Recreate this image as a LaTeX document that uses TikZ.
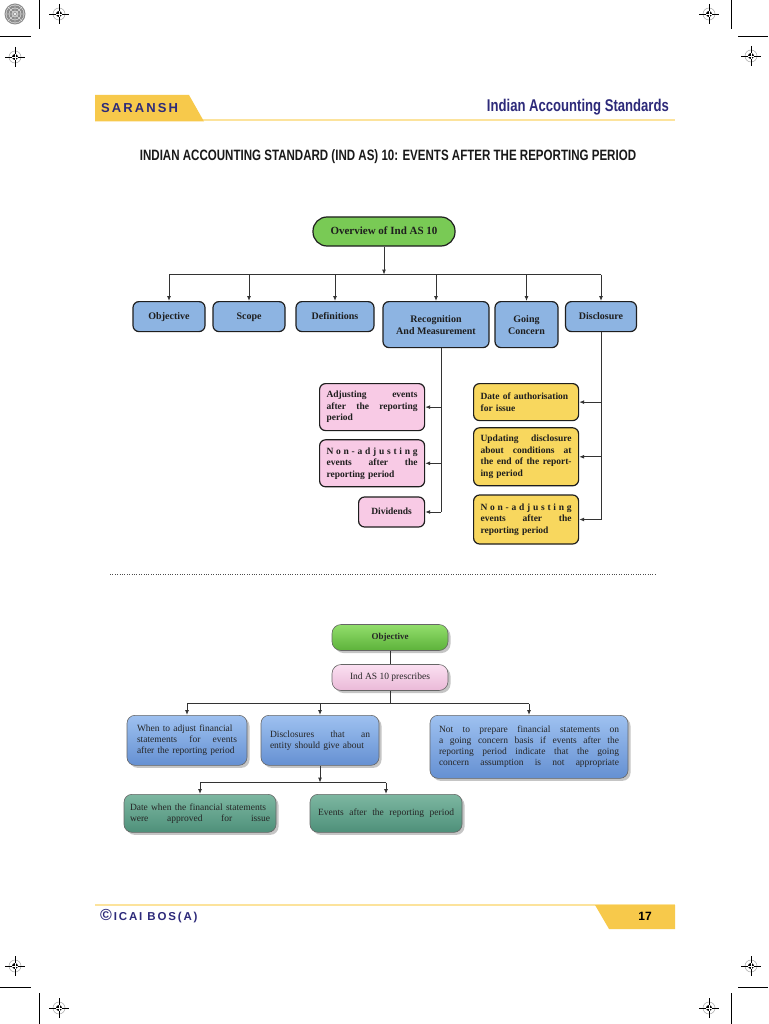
\documentclass[tikz,border=0pt]{standalone}
\usepackage{fontspec}
\setmainfont{Liberation Serif}
\newfontfamily\condfont[FakeStretch=0.77]{Liberation Sans}
\newfontfamily\widefont[LetterSpace=16]{Liberation Sans}
\usepackage{xcolor}
\usepackage{tikz}
\usetikzlibrary{positioning, arrows.meta, shadows}

\definecolor{navy}{HTML}{2D2A7A}
\definecolor{tagyellow}{HTML}{F7C94B}
\definecolor{ruleyellow}{HTML}{FCE39C}
\definecolor{ovgreen}{HTML}{79CA55}
\definecolor{topblue}{HTML}{8DB4E2}
\definecolor{pinkfill}{HTML}{F8CAE5}
\definecolor{boxyellow}{HTML}{F8D75E}
\definecolor{edge}{HTML}{1E1E1E}
\definecolor{wire}{HTML}{333333}
\definecolor{bluetop}{HTML}{9EC1F0}
\definecolor{bluebot}{HTML}{6590D2}
\definecolor{tealtop}{HTML}{7DB7A1}
\definecolor{tealbot}{HTML}{4E907A}
\definecolor{greentop}{HTML}{92DE6C}
\definecolor{greenbot}{HTML}{5DB23A}
\definecolor{pinktop}{HTML}{FBE0F1}
\definecolor{pinkbot}{HTML}{EAB9D8}

% justified lines and letter-spaced words inside the boxes
\newcommand{\fullline}[1]{\makebox[\hsize][s]{\spaceskip=0.25em plus 1fil\relax #1}}
\def\spreadletters#1{#1\futurelet\spreadnext\spreadcheck}
\def\spreadcheck{\ifx\spreadnext\relax\let\spreadgo\spreadstop\else\hfil\let\spreadgo\spreadletters\fi\spreadgo}
\def\spreadstop#1{}
\newcommand{\spreadword}[1]{\makebox[\hsize][s]{\spreadletters#1\relax}}

\begin{document}
\begin{tikzpicture}[
    x=1pt, y=-1pt,
    % Define styles for the boxes, wires and marks
    wire/.style={draw=wire, line width=0.9pt},
    arrow/.style={wire, -{Latex[length=5pt, width=4pt]}},
    topbox/.style={draw=edge, line width=1.2pt, rounded corners=6pt, fill=topblue, align=center, anchor=north, minimum height=30pt, inner sep=2pt, font=\fontsize{10}{12}\selectfont\bfseries, text=edge},
    oneline/.style={text height=7pt, text depth=2pt},
    pinkbox/.style={topbox, fill=pinkfill, align=left, text width=91pt, inner xsep=7pt, font=\fontsize{9.5}{11.5}\selectfont\bfseries},
    yellowbox/.style={pinkbox, fill=boxyellow},
    shadedbox/.style={draw=black!60, line width=0.6pt, rounded corners=8pt, align=left, anchor=north, inner sep=3pt, font=\fontsize{9.5}{11}\selectfont, text=black!85, drop shadow={shadow xshift=2.5pt, shadow yshift=-2.5pt, opacity=0.45}},
    bluebox/.style={shadedbox, top color=bluetop, bottom color=bluebot},
    tealbox/.style={shadedbox, top color=tealtop, bottom color=tealbot},
    pillbox/.style={shadedbox, align=center, anchor=center, minimum width=116pt, minimum height=26pt, rounded corners=9pt},
    regmark/.pic={
        \draw[black!35, line width=0.5pt] (0,0) circle (6);
        \draw[black, line width=0.7pt] (-10,0) -- (10,0) (0,-10) -- (0,10);
        \fill[black] (0,0) circle (3);
        \draw[white, line width=0.5pt] (-3,0) -- (3,0) (0,-3) -- (0,3);
    }
]
    \useasboundingbox (0,0) rectangle (768,1024);
    \fill[white] (0,0) rectangle (768,1024);

    % Printer marks
    \fill[black!45] (15,14) circle (10.5);
    \draw[white, line width=0.3pt] (15,14) circle (3) (15,14) circle (6) (15,14) circle (9);
    \draw[white, line width=0.3pt] (5,14) -- (25,14) (15,4) -- (15,24) (8,7) -- (22,21) (8,21) -- (22,7);
    \pic at (59,14) {regmark};
    \pic at (15,57) {regmark};
    \pic at (709,14) {regmark};
    \pic at (751,56) {regmark};
    \pic at (15,966) {regmark};
    \pic at (59,1008) {regmark};
    \pic at (709,1008) {regmark};
    \pic at (751,966) {regmark};
    \draw[line width=0.9pt] (39,0) -- (39,29) (0,36) -- (31,36);
    \draw[line width=0.9pt] (731,0) -- (731,29) (738,36) -- (768,36);
    \draw[line width=0.9pt] (0,987) -- (31,987) (39,993) -- (39,1024);
    \draw[line width=0.9pt] (738,987) -- (768,987) (731,993) -- (731,1024);

    % Header and footer
    \fill[ruleyellow] (95,119) rectangle (675,121.5);
    \fill[tagyellow] (95,95) -- (189,95) -- (204,121.5) -- (95,121.5) -- cycle;
    \node[font=\widefont\fontsize{13}{15}\selectfont\bfseries, text=navy, anchor=west, inner sep=0pt] (saransh) at (101,108) {SARANSH};
    \node[font=\condfont\fontsize{17}{19}\selectfont\bfseries, text=navy, anchor=east, inner sep=0pt] (standards) at (669,107) {Indian Accounting Standards};
    \node[font=\condfont\fontsize{15}{18}\selectfont\bfseries, text=black!90, inner sep=0pt] (title) at (388,156.5) {INDIAN ACCOUNTING STANDARD (IND AS) 10: EVENTS AFTER THE REPORTING PERIOD};

    \fill[ruleyellow] (95,903.5) rectangle (675,906);
    \fill[tagyellow] (595,905) -- (675,905) -- (675,929) -- (609,929) -- cycle;
    \node[font=\widefont\fontsize{11.5}{13}\selectfont\bfseries, text=navy, anchor=west, inner sep=0pt] (icai) at (100,916) {{\fontsize{16}{16}\selectfont\textcopyright}\,ICAI BOS(A)};
    \node[font=\fontspec{Liberation Sans}\fontsize{12}{14}\selectfont\bfseries, inner sep=0pt] (pageno) at (645,916) {17};

    % Overview of Ind AS 10
    \node[topbox, oneline, minimum width=142pt, minimum height=29pt, rounded corners=14pt, fill=ovgreen, anchor=center, font=\fontsize{11}{12}\selectfont\bfseries] (overview) at (384,231.5) {Overview of Ind AS 10};
    \coordinate (topbus) at ([yshift=-28pt]overview.south);

    \node[topbox, oneline, minimum width=72pt] (objective) at (169,301) {Objective};
    \node[topbox, oneline, minimum width=72pt] (scope) at (249,301) {Scope};
    \node[topbox, oneline, minimum width=78pt] (definitions) at (335,301) {Definitions};
    \node[topbox, minimum width=106pt, minimum height=46pt] (recognition) at (436,301) {Recognition\\And Measurement};
    \node[topbox, minimum width=63pt, minimum height=46pt] (goingconcern) at (526.5,301) {Going\\Concern};
    \node[topbox, oneline, minimum width=71pt] (disclosure) at (601,301) {Disclosure};

    \node[pinkbox, anchor=north west, minimum height=47pt] (adjusting) at (319,383) {\fullline{Adjusting events}\\\fullline{after the reporting}\\period};
    \node[pinkbox, below=8pt of adjusting, minimum height=47pt] (nonadjusting) {\spreadword{Non-adjusting}\\\fullline{events after the}\\reporting period};
    \node[pinkbox, oneline, text width=52pt, align=center, minimum height=30pt, below left=9pt and 0pt of nonadjusting.south east] (dividends) {Dividends};

    \node[yellowbox, anchor=north west, minimum height=37pt] (authorisation) at (473,383) {Date of authorisation\\for issue};
    \node[yellowbox, below=6pt of authorisation, minimum height=58pt] (updating) {\fullline{Updating disclosure}\\\fullline{about conditions at}\\\fullline{the end of the report-}\\ing period};
    \node[yellowbox, below=8pt of updating, minimum height=49pt] (nonadjdisc) {\spreadword{Non-adjusting}\\\fullline{events after the}\\reporting period};

    % Draw the wires and arrows
    \draw[arrow] (overview.south) -- (topbus);
    \draw[wire] (topbus -| objective) -- (topbus -| disclosure);
    \draw[arrow] (topbus -| objective) -- (objective.north);
    \draw[arrow] (topbus -| scope) -- (scope.north);
    \draw[arrow] (topbus -| definitions) -- (definitions.north);
    \draw[arrow] (topbus -| recognition) -- (recognition.north);
    \draw[arrow] (topbus -| goingconcern) -- (goingconcern.north);
    \draw[arrow] (topbus -| disclosure) -- (disclosure.north);

    \coordinate (rtrunk) at ([xshift=5pt]recognition.south);
    \draw[wire] (rtrunk) -- (rtrunk |- dividends);
    \draw[arrow] (rtrunk |- adjusting) -- (adjusting.east);
    \draw[arrow] (rtrunk |- nonadjusting) -- (nonadjusting.east);
    \draw[arrow] (rtrunk |- dividends) -- (dividends.east);

    \draw[wire] (disclosure.south) -- (disclosure.south |- nonadjdisc);
    \draw[arrow] (disclosure.south |- authorisation) -- (authorisation.east);
    \draw[arrow] (disclosure.south |- updating) -- (updating.east);
    \draw[arrow] (disclosure.south |- nonadjdisc) -- (nonadjdisc.east);

    \draw[black!70, line width=0.8pt, dash pattern=on 0.8pt off 1.6pt] (110,574) -- (655,574);

    % Objective of Ind AS 10
    \node[pillbox, top color=greentop, bottom color=greenbot, font=\fontsize{9}{11}\selectfont\bfseries] (bobjective) at (390,637.5) {Objective};
    \node[pillbox, top color=pinktop, bottom color=pinkbot] (prescribes) at (390,677.5) {Ind AS 10 prescribes};
    \coordinate (midbus) at ([yshift=-13pt]prescribes.south);

    \node[bluebox, text width=100pt, inner xsep=10pt, minimum height=50pt] (whenadjust) at (187,715) {When to adjust financial\\\fullline{statements for events}\\after the reporting period};
    \node[bluebox, text width=100pt, inner xsep=9pt, minimum height=50pt] (givedisclosure) at (320,715) {\fullline{Disclosures that an}\\entity should give about};
    \node[bluebox, text width=180pt, inner xsep=9pt, minimum height=63pt] (notgoing) at (529,715) {\fullline{Not to prepare financial statements on}\\\fullline{a going concern basis if events after the}\\\fullline{reporting period indicate that the going}\\\fullline{concern assumption is not appropriate}};
    \coordinate (lowbus) at ([yshift=-17pt]givedisclosure.south);

    \node[tealbox, text width=140pt, inner xsep=6pt, minimum height=38pt] (datewhen) at (200,794) {Date when the financial statements\\\fullline{were approved for issue}};
    \node[tealbox, text width=136pt, inner xsep=8pt, minimum height=38pt] (eventsafter) at (386,794) {\fullline{Events after the reporting period}};

    \draw[wire] (bobjective) -- (prescribes);
    \draw[wire] (prescribes.south) -- (midbus);
    \draw[wire] (midbus -| whenadjust) -- (midbus -| notgoing);
    \draw[arrow] (midbus -| whenadjust) -- (whenadjust.north);
    \draw[arrow] (midbus -| givedisclosure) -- (givedisclosure.north);
    \draw[arrow] (midbus -| notgoing) -- (notgoing.north);
    \draw[arrow] (givedisclosure.south) -- (lowbus);
    \draw[wire] (lowbus -| datewhen) -- (lowbus -| eventsafter);
    \draw[arrow] (lowbus -| datewhen) -- (datewhen.north);
    \draw[arrow] (lowbus -| eventsafter) -- (eventsafter.north);
\end{tikzpicture}
\end{document}
